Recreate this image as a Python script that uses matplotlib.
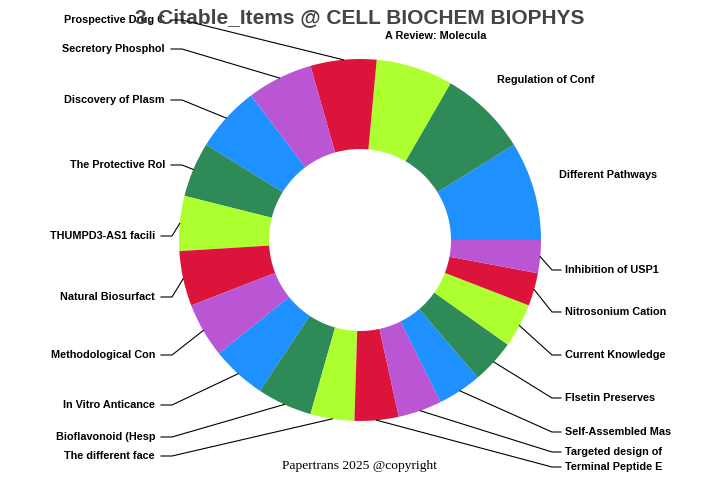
import matplotlib
matplotlib.use("Agg")
import matplotlib.pyplot as plt
import numpy as np

########### DATA ###########
TITLE = "3. Citable_Items @ CELL BIOCHEM BIOPHYS"
FOOTER = "Papertrans 2025 @copyright"
labels = [
    "Different Pathways", "Regulation of Conf", "A Review: Molecula",
    "Prospective Drug C", "Secretory Phosphol", "Discovery of Plasm",
    "The Protective Rol", "THUMPD3-AS1 facili", "Natural Biosurfact",
    "Methodological Con", "In Vitro Anticance", "Bioflavonoid (Hesp",
    "The different face", "Terminal Peptide E", "Targeted design of",
    "Self-Assembled Mas", "FIsetin Preserves", "Current Knowledge",
    "Nitrosonium Cation", "Inhibition of USP1",
]
citable_items = [9, 8, 7, 6, 6, 6, 5, 5, 5, 5, 5, 5, 4, 4, 4, 4, 4, 4, 3, 3]
palette = ["#1E90FF", "#2E8B57", "#ADFF2F", "#DC143C", "#BA55D3"]
############################

########### LAYOUT (pixels, y from top) ###########
W, H = 720, 480
CX, CY = 360, 240
R_OUT = 181
RING = 90
# labels sitting right next to their slice, no leader line
free_labels = {0: (559, 175), 1: (497, 80), 2: (385, 36)}
# labels with leader lines: side, knee x, text row y
leader_labels = {
    3: ("L", 182, 20), 4: ("L", 182, 49), 5: ("L", 182, 100), 6: ("L", 182, 165),
    7: ("L", 172, 236), 8: ("L", 172, 297), 9: ("L", 172, 355), 10: ("L", 172, 405),
    11: ("L", 172, 437), 12: ("L", 172, 456),
    13: ("R", 552, 467), 14: ("R", 552, 452), 15: ("R", 552, 432), 16: ("R", 552, 398),
    17: ("R", 552, 355), 18: ("R", 552, 312), 19: ("R", 552, 270),
}
LABEL_FONT = dict(family="Liberation Sans", fontweight="bold", fontsize=7.8, color="black")
###################################################


def py(y):
    # layout is read top-down, axes run bottom-up
    return H - y


fig = plt.figure(figsize=(W / 100, H / 100), dpi=100)
ax = fig.add_axes([0, 0, 1, 1])

colors = [palette[i % len(palette)] for i in range(len(citable_items))]
wedges, _ = ax.pie(citable_items, colors=colors, startangle=0, counterclock=True,
                   radius=R_OUT, center=(CX, CY),
                   wedgeprops=dict(width=RING, linewidth=0))

ax.set_xlim(0, W)
ax.set_ylim(0, H)
ax.set_aspect("equal")
ax.axis("off")

for i, pos in free_labels.items():
    ax.text(pos[0], py(pos[1]), labels[i], ha="left", va="center", **LABEL_FONT)

for i, (side, knee_x, y) in leader_labels.items():
    w = wedges[i]
    mid = np.deg2rad((w.theta1 + w.theta2) / 2)
    x0 = CX + R_OUT * np.cos(mid)
    y0 = CY + R_OUT * np.sin(mid)
    if side == "L":
        end_x = knee_x - 11
        ax.plot([x0, knee_x, end_x], [y0, py(y), py(y)], color="black", lw=0.8, zorder=4)
        ax.text(end_x - 6, py(y), labels[i], ha="right", va="center", **LABEL_FONT)
    else:
        end_x = knee_x + 9
        ax.plot([x0, knee_x, end_x], [y0, py(y), py(y)], color="black", lw=0.8, zorder=4)
        ax.text(end_x + 4, py(y), labels[i], ha="left", va="center", **LABEL_FONT)

ax.text(CX, py(18), TITLE, ha="center", va="center", family="Liberation Sans",
        fontweight="bold", fontsize=15, color="#444444", zorder=3)
ax.text(CX, py(466), FOOTER, ha="center", va="center", family="Liberation Serif",
        fontsize=9.7, color="black")

fig.savefig("out.png", dpi=100)
